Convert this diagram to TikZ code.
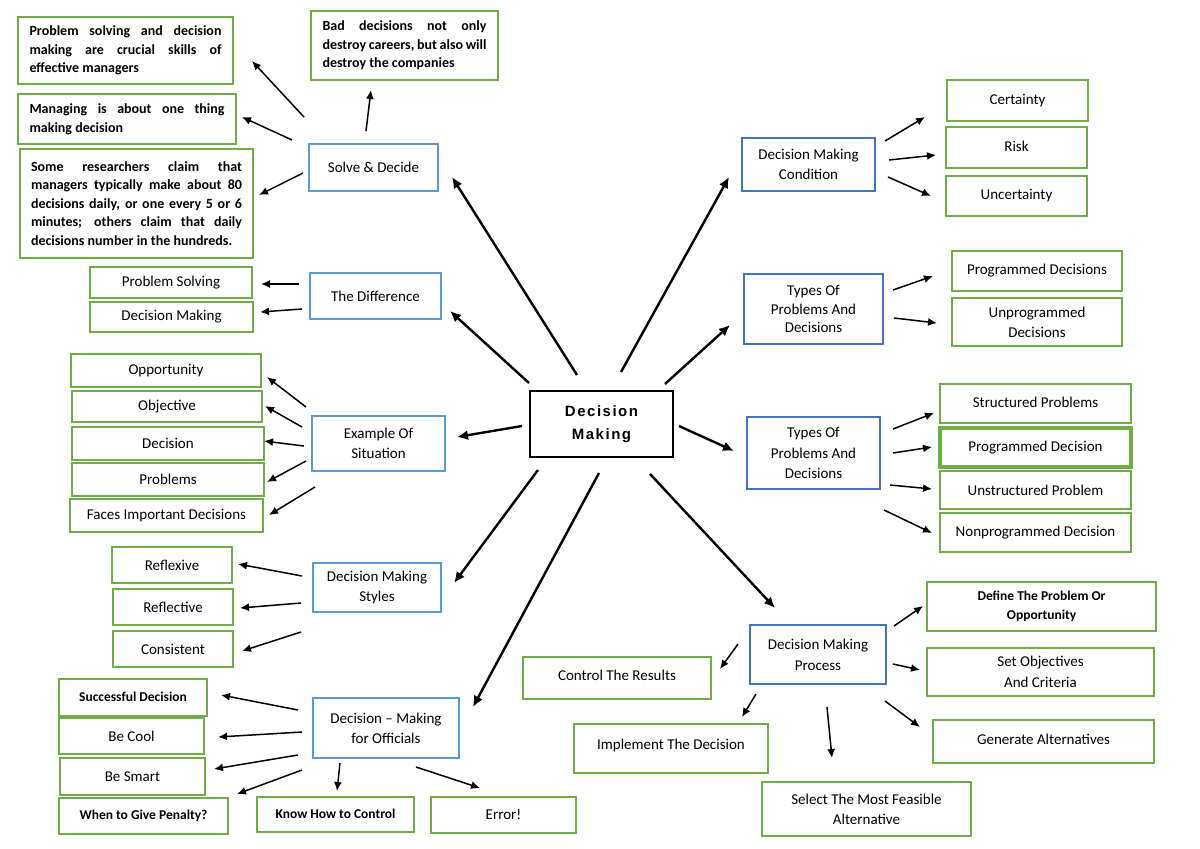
\documentclass[tikz,border=0pt]{standalone}
\usepackage{fontspec}
\setmainfont{Carlito}
\newfontfamily\dmfont[LetterSpace=10]{Liberation Sans}
\usetikzlibrary{arrows.meta}
\definecolor{gr}{HTML}{70AD47}
\definecolor{lb}{HTML}{5B9BD5}
\definecolor{db}{HTML}{4472C4}
\tikzset{
 basebox/.style={inner sep=0pt, align=center, font=\fontsize{15}{20}\selectfont},
 gbox/.style={basebox, draw=gr, line width=2.4pt},
 lbox/.style={basebox, draw=lb, line width=2.4pt},
 dbox/.style={basebox, draw=db, line width=2.4pt},
 bld/.style={font=\fontsize{13.5}{18.5}\selectfont\bfseries},
 para/.style={font=\fontsize{14}{18.6}\selectfont\bfseries},
 arr/.style={line width=1.5pt, -{Latex[length=9pt,width=8pt]}},
 bigarr/.style={line width=2.4pt, -{Latex[length=11pt,width=10pt]}},
}
\newcommand\jl[2]{\makebox[#1pt][s]{#2}}
\newcommand\pbox[2]{\parbox{#1pt}{#2}}
\newcommand\up[2]{\raisebox{#1pt}{#2}}
% \bx{style}{name}{x1}{y1}{x2}{y2}{text}
\newcommand\bx[7]{\node[#1, minimum width={(#5)-(#3)}, minimum height={(#6)-(#4)}] (#2) at ({((#3)+(#5))/2},{((#4)+(#6))/2}) {#7};}
\newcommand\conn[4]{\coordinate (#2s) at (#3); \coordinate (#2e) at (#4); \draw[#1] (#2s) -- (#2e);}
\begin{document}
\begin{tikzpicture}[x=1pt,y=-1pt]
\useasboundingbox[fill=white] (0,0) rectangle (1200,849);

% centre
\bx{basebox, draw=black, line width=2.8pt, font=\dmfont\bfseries\fontsize{15}{23}\selectfont}{dm}{530}{391}{673}{457}{Decision\\Making}

% Solve & Decide group
\bx{lbox}{solve}{309}{144}{438}{191}{Solve \& Decide}
\bx{gbox, para}{b1}{18}{17}{233}{84}{\pbox{192}{\jl{192}{Problem solving and decision}\\\jl{192}{making are crucial skills of}\\effective managers}}
\bx{gbox, para}{b2}{18}{94}{236}{144}{\pbox{195}{\jl{195}{Managing is about one thing}\\making decision}}
\bx{gbox, para}{b3}{20}{149}{253}{258}{\pbox{211}{\jl{211}{Some researchers claim that}\\\jl{211}{managers typically make about 80}\\\jl{211}{decisions daily, or one every 5 or 6}\\\jl{211}{minutes; others claim that daily}\\decisions number in the hundreds.}}
\bx{gbox, para}{b4}{311}{11}{498}{80}{\pbox{164}{\jl{164}{Bad decisions not only}\\\jl{164}{destroy careers, but also will}\\destroy the companies}}

% The Difference
\bx{lbox}{diff}{310}{273}{441}{319}{The Difference}
\bx{gbox}{ps}{90}{267}{252}{298}{Problem Solving}
\bx{gbox}{dmk}{90}{302}{253}{332}{Decision Making}

% Example of situation
\bx{lbox}{ex}{312}{416}{445}{471}{Example Of\\Situation}
\bx{gbox}{opp}{71}{354}{261}{387}{Opportunity}
\bx{gbox}{obj}{72}{391}{262}{422}{Objective}
\bx{gbox}{dec}{72}{427}{264}{460}{Decision}
\bx{gbox}{prb}{72}{463}{264}{496}{Problems}
\bx{gbox}{fac}{70}{499}{263}{532}{Faces Important Decisions}

% Styles
\bx{lbox}{sty}{313}{563}{441}{612}{Decision Making\\Styles}
\bx{gbox}{rfx}{112}{547}{232}{583}{Reflexive}
\bx{gbox}{rfl}{113}{589}{233}{625}{Reflective}
\bx{gbox}{con}{113}{631}{233}{667}{Consistent}

% Officials
\bx{lbox}{off}{313}{698}{459}{758}{Decision -- Making\\for Officials}
\bx{gbox, bld}{suc}{59}{679}{207}{716}{\up{2}{Successful Decision}}
\bx{gbox}{coo}{59}{718}{204}{754}{Be Cool}
\bx{gbox}{sma}{60}{758}{205}{795}{Be Smart}
\bx{gbox, bld}{whe}{59}{798}{228}{834}{When to Give Penalty?}
\bx{gbox, bld}{kno}{257}{797}{414}{832}{\up{2}{Know How to Control}}
\bx{gbox}{err}{431}{797}{576}{833}{\up{2}{Error!}}

% Condition
\bx{dbox}{cond}{742}{138}{875}{191}{Decision Making\\Condition}
\bx{gbox}{cer}{947}{80}{1088}{121}{\up{2}{Certainty}}
\bx{gbox}{rsk}{946}{127}{1087}{168}{\up{3}{Risk}}
\bx{gbox}{unc}{946}{176}{1087}{216}{\up{2}{Uncertainty}}

% Types 1
\bx{dbox, font=\fontsize{15}{18.5}\selectfont}{ta}{744}{274}{883}{344}{Types Of\\Problems And\\Decisions}
\bx{gbox}{pgd}{952}{251}{1122}{291}{\up{2}{Programmed Decisions}}
\bx{gbox}{upd}{952}{298}{1122}{346}{Unprogrammed\\Decisions}

% Types 2
\bx{dbox, font=\fontsize{15}{20.5}\selectfont}{tb}{747}{417}{880}{489}{Types Of\\Problems And\\Decisions}
\bx{gbox}{str}{940}{384}{1131}{423}{\up{2}{Structured Problems}}
\bx{gbox, line width=3.8pt}{pg2}{940}{428}{1131}{467}{Programmed Decision}
\bx{gbox}{uns}{940}{471}{1131}{509}{Unstructured Problem}
\bx{gbox}{npd}{940}{513}{1131}{552}{Nonprogrammed Decision}

% Process
\bx{dbox, font=\fontsize{15}{21}\selectfont}{proc}{750}{625}{886}{684}{Decision Making\\Process}
\bx{gbox, bld}{def}{927}{582}{1156}{631}{Define The Problem Or\\Opportunity}
\bx{gbox, font=\fontsize{15}{21}\selectfont}{set}{927}{648}{1154}{696}{Set Objectives\\And Criteria}
\bx{gbox}{gen}{933}{720}{1154}{763}{\up{4}{Generate Alternatives}}
\bx{gbox}{sel}{762}{782}{971}{836}{Select The Most Feasible\\Alternative}
\bx{gbox}{imp}{574}{724}{768}{773}{\up{8}{Implement The Decision}}
\bx{gbox}{ctl}{523}{657}{711}{699}{\up{6}{Control The Results}}

% main arrows
\conn{bigarr}{m1}{577,375}{452,177}
\conn{bigarr}{m2}{529,383}{450,311}
\conn{bigarr}{m3}{522,426}{457,437}
\conn{bigarr}{m4}{538,470}{454,583}
\conn{bigarr}{m5}{599,473}{473,707}
\conn{bigarr}{m6}{650,474}{775,608}
\conn{bigarr}{m7}{679,426}{734,451}
\conn{bigarr}{m8}{665,384}{730,325}
\conn{bigarr}{m9}{621,372}{729,177}

% solve arrows
\conn{arr}{s1}{304,117}{252,61}
\conn{arr}{s2}{292,140}{242,117}
\conn{arr}{s3}{303,173}{259,195}
\conn{arr}{s4}{366,131}{371,90}
% difference
\conn{arr}{d1}{299,284}{261,284}
\conn{arr}{d2}{302,309}{260,312}
% example
\conn{arr}{e1}{306,407}{267,377}
\conn{arr}{e2}{302,427}{265,406}
\conn{arr}{e3}{304,446}{264,441}
\conn{arr}{e4}{306,461}{267,482}
\conn{arr}{e5}{315,487}{269,515}
% styles
\conn{arr}{y1}{302,576}{238,564}
\conn{arr}{y2}{301,603}{240,608}
\conn{arr}{y3}{301,632}{242,651}
% officials
\conn{arr}{o1}{298,710}{221,695}
\conn{arr}{o2}{302,732}{218,737}
\conn{arr}{o3}{298,755}{214,769}
\conn{arr}{o4}{302,770}{237,794}
\conn{arr}{o5}{340,763}{337,791}
\conn{arr}{o6}{416,767}{480,788}
% condition
\conn{arr}{c1}{885,141}{925,117}
\conn{arr}{c2}{889,160}{936,155}
\conn{arr}{c3}{888,177}{931,196}
% types 1
\conn{arr}{p1}{893,290}{933,276}
\conn{arr}{p2}{894,318}{937,323}
% types 2
\conn{arr}{q1}{893,429}{934,413}
\conn{arr}{q2}{893,453}{932,447}
\conn{arr}{q3}{890,485}{932,489}
\conn{arr}{q4}{884,510}{932,533}
% process
\conn{arr}{r1}{894,626}{923,606}
\conn{arr}{r2}{893,664}{920,670}
\conn{arr}{r3}{885,701}{920,727}
\conn{arr}{r4}{827,707}{832,758}
\conn{arr}{r5}{756,694}{742,717}
\conn{arr}{r6}{738,644}{720,669}
\end{tikzpicture}
\end{document}
